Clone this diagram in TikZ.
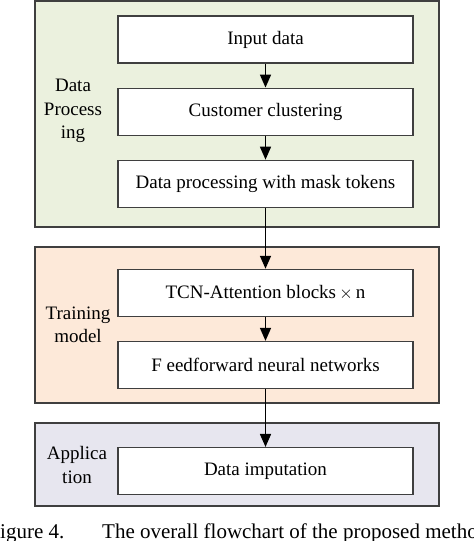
\documentclass[tikz,border=0pt]{standalone}
\usepackage{fontspec}
\setmainfont{Liberation Serif}
\usetikzlibrary{arrows.meta, positioning}
\usepackage{xcolor}
\definecolor{ProcGreen}{HTML}{EBF1DE}
\definecolor{TrainPeach}{HTML}{FDE9D9}
\definecolor{AppLilac}{HTML}{E7E6EF}
\definecolor{EdgeGray}{HTML}{3F3F3F}

\begin{document}
\begin{tikzpicture}[x=1pt, y=1pt,
    panel/.style={
        draw=EdgeGray, line width=1.6pt, minimum width=404pt, inner sep=0pt
    },
    stage/.style={
        draw=EdgeGray, line width=1.1pt, fill=white, minimum width=295pt,
        minimum height=47pt, inner sep=0pt, font=\fontsize{19}{23}\selectfont
    },
    side/.style={align=center, font=\fontsize{19}{23.5}\selectfont},
    arr/.style={-{Triangle[length=13pt, width=11pt]}, line width=1.6pt},
    captext/.style={anchor=base west, inner sep=0pt, font=\fontsize{21}{24}\selectfont}
]
\useasboundingbox (0,0) rectangle (474,-541);

% =============================================
% PANELS: processing, training, application
% =============================================
\node[panel, fill=ProcGreen, minimum height=226pt] (procpanel) at (237,-114) {};
\node[panel, fill=TrainPeach, minimum height=156pt] (trainpanel) at (237,-325) {};
\node[panel, fill=AppLilac, minimum height=83pt] (apppanel) at (237,-464.5) {};

\node[side] (proclabel) at (73,-111) {Data\\Process\\ing};
\node[side] (trainlabel) at (78,-325) {Training\\model};
\node[side] (applabel) at (77,-465) {Applica\\tion};

% =============================================
% STAGES
% =============================================
\node[stage] (input) at (265.5,-39.5) {Input data};
\node[stage, below=24pt of input] (cluster) {Customer clustering};
\node[stage, below=24pt of cluster] (masking) {Data processing with mask tokens};

\node[stage, below=61pt of masking] (tcn) {TCN-Attention blocks\,$\times$\,n};
\node[stage, below=24pt of tcn] (ffnn) {F eedforward neural networks};

\node[stage, below=58pt of ffnn] (impute) {Data imputation};

\draw[arr] (input) -- (cluster);
\draw[arr] (cluster) -- (masking);
\draw[arr] (masking) -- (tcn);
\draw[arr] (tcn) -- (ffnn);
\draw[arr] (ffnn) -- (impute);

% caption, cut by the page edges
\node[captext] (figno) at (0,-538) {igure 4.};
\node[captext] (figtitle) at (102,-538) {The overall flowchart of the proposed metho};

\end{tikzpicture}
\end{document}
